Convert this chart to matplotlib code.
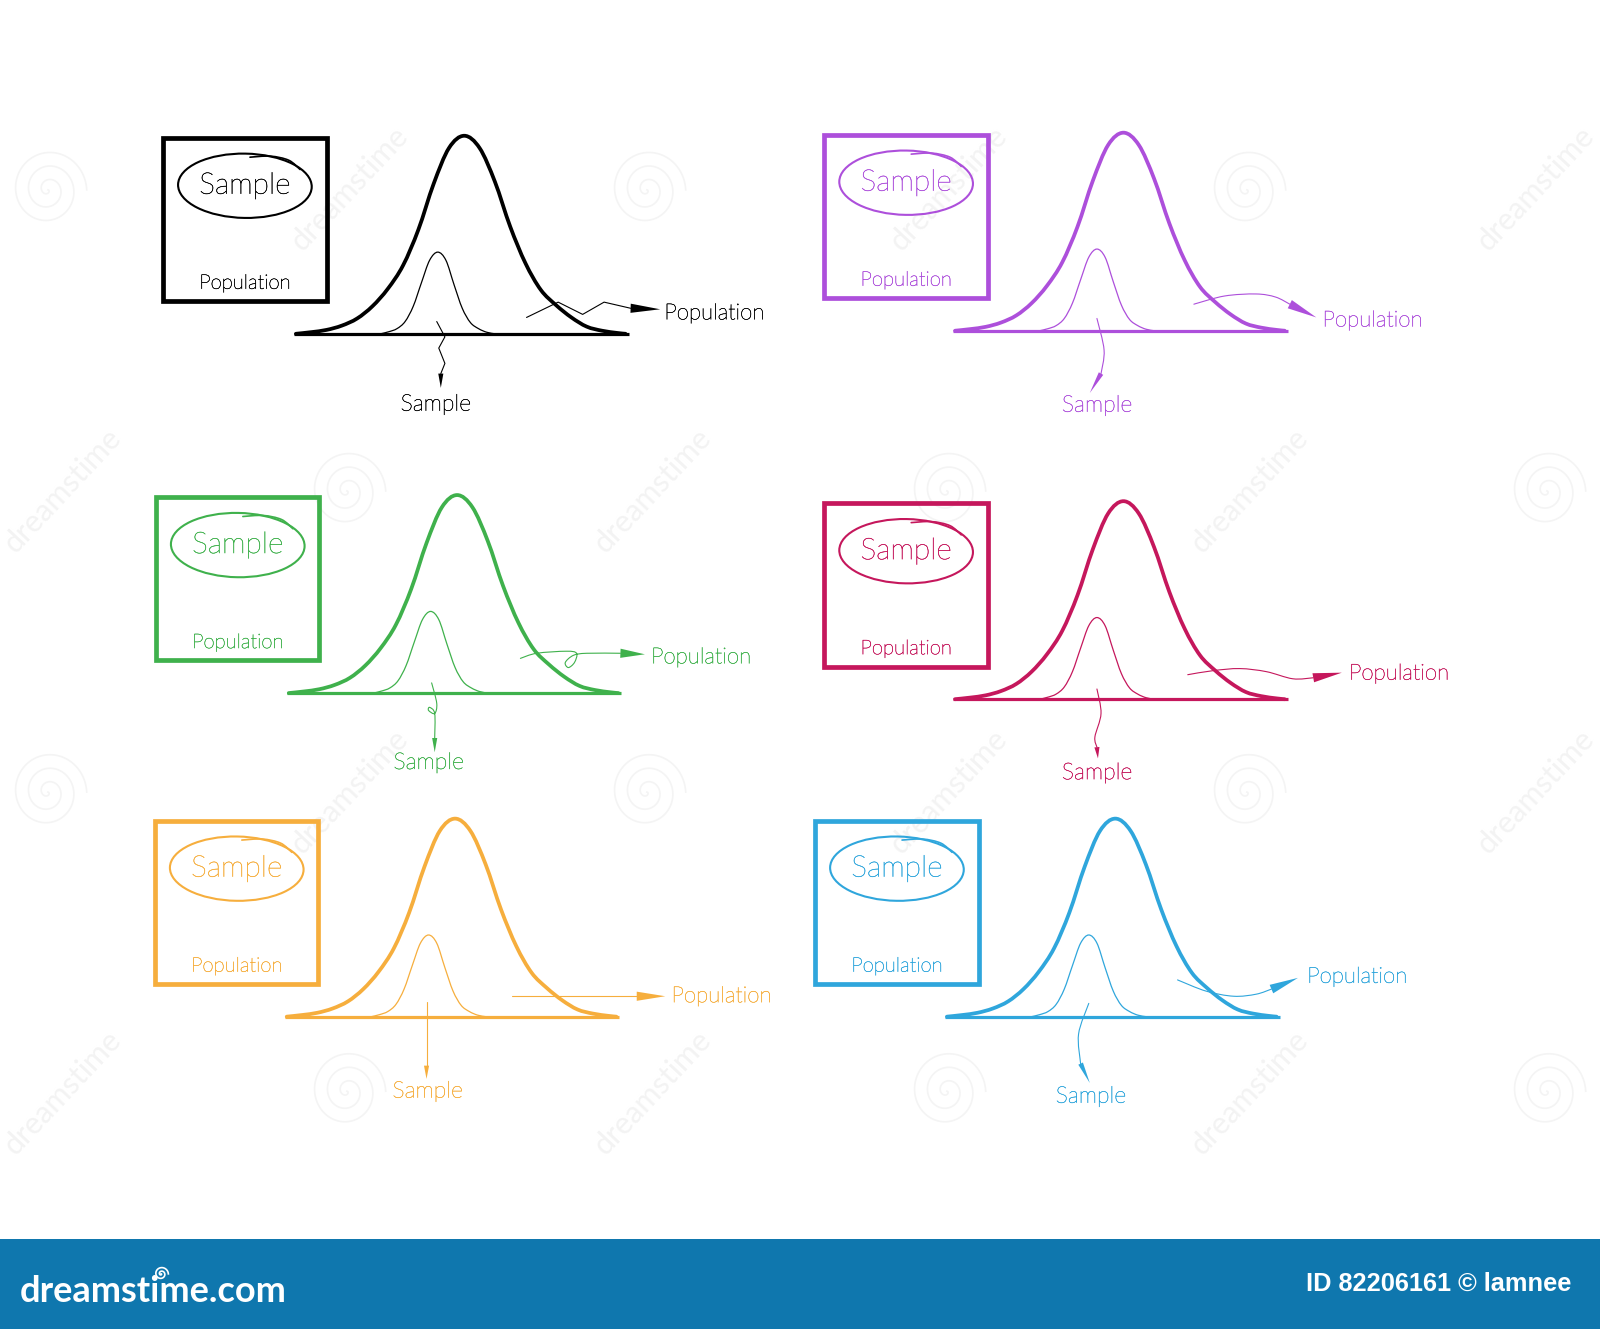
import matplotlib
matplotlib.use('Agg')
import matplotlib.patheffects as pe
import matplotlib.pyplot as plt
import numpy as np
from matplotlib.patches import Ellipse, PathPatch, Polygon, Rectangle
from matplotlib.path import Path

# picture coordinates, y going down
W, H = 1568, 1302

colors = ['#000000', '#ad4fdb', '#3fb14c', '#c5175c', '#f6ae3d', '#2fa6dc']
box_left = [158, 806, 151, 806, 150, 797]
box_top = [133, 130, 485, 491, 802, 802]
peak_x = [455, 1101, 448, 1101, 446, 1093]

# big and small bell, offset from the peak / height above the base line
big_dx = [-165, -150, -135, -120, -105, -90, -75, -60, -45, -30, -15, 0, 15, 30, 45, 60, 75, 90, 105, 120, 135, 150, 158]
big_h = [0, 1.6, 3.8, 8, 15, 27, 44, 67, 102, 147, 182, 194, 182, 149, 105, 69, 43, 28, 16, 7, 3, 0.8, 0]
small_dx = [-56, -48, -40, -32, -24, -16, -8, 0, 8, 16, 24, 32, 40, 48, 56]
small_h = [0, 2, 5, 12, 27, 50, 72, 80, 72, 48, 25, 11, 5, 1.5, 0]

pop_label_x = [700, 1345, 687, 1371, 707, 1330]
pop_label_y = [307, 314, 644, 660, 976, 957]
sample_label_x = [427, 1075, 420, 1075, 419, 1069]
sample_label_y = [396, 397, 747, 757, 1069, 1074]

# arrow shafts: the last point is where the head starts
pop_shaft = [
    [(516, 311), (547, 296), (571, 308), (592, 296), (618, 302)],
    [(1170, 298), (1200, 290), (1231, 288), (1250, 291), (1264, 298)],
    [(510, 645), (526, 640), (555, 638), (565, 640), (563, 649), (557, 654), (554, 649), (562, 642), (575, 640), (608, 640)],
    [(1164, 661), (1189, 657), (1215, 655), (1241, 658), (1267, 665), (1287, 664)],
    [(502, 976), (624, 976)],
    [(1154, 960), (1182, 971), (1209, 976), (1231, 974), (1246, 969)],
]
pop_tip = [(647, 303), (1290, 311), (632, 641), (1315, 659), (652, 976), (1272, 958)]
sample_shaft = [
    [(428, 315), (436, 330), (430, 341), (436, 356), (432, 366)],
    [(1075, 312), (1082, 343), (1079, 366)],
    [(423, 669), (428, 689), (426, 699), (420, 696), (421, 693), (426, 699), (426, 723)],
    [(1075, 675), (1079, 699), (1073, 722), (1075, 732)],
    [(418, 982), (418, 1044)],
    [(1067, 983), (1057, 1013), (1059, 1042)],
]
sample_tip = [(432, 380), (1068, 385), (426, 737), (1076, 743), (418, 1057), (1068, 1061)]
pop_straight = [True, False, False, False, True, False]
sample_straight = [True, False, False, False, True, False]

# the extra pen stroke on the sample ellipse, relative to its centre
stroke_dx = [5, 25, 43, 54]
stroke_dy = [-28, -29, -25, -16]

spiral_x = [47, 634, 1222, 340, 928, 1516, 47, 634, 1222, 340, 928, 1516]
spiral_y = [186, 186, 186, 481, 481, 481, 776, 776, 776, 1069, 1069, 1069]
mark_x = [343, 930, 1505, 62, 640, 1225, 343, 930, 1505, 62, 640, 1225]
mark_y = [185, 185, 185, 480, 480, 480, 775, 775, 775, 1070, 1070, 1070]


def smooth_path(pts):
    # catmull-rom through the points, as bezier segments
    pts = np.array(pts, dtype=float)
    verts = [pts[0]]
    codes = [Path.MOVETO]
    for i in range(len(pts) - 1):
        p0 = pts[max(i - 1, 0)]
        p1 = pts[i]
        p2 = pts[i + 1]
        p3 = pts[min(i + 2, len(pts) - 1)]
        verts += [p1 + (p2 - p0) / 6, p2 - (p3 - p1) / 6, p2]
        codes += [Path.CURVE4] * 3
    return Path(verts, codes)


def draw_line(ax, pts, color, lw, straight=False):
    path = Path(pts) if straight else smooth_path(pts)
    ax.add_patch(PathPatch(path, fill=False, edgecolor=color, linewidth=lw, capstyle='round'))


def draw_arrow(ax, pts, tip, color, half, straight):
    draw_line(ax, pts, color, 0.8, straight)
    base = np.array(pts[-1], dtype=float)
    tip = np.array(tip, dtype=float)
    d = (tip - base) / np.linalg.norm(tip - base)
    n = np.array([-d[1], d[0]])
    ax.add_patch(Polygon([base + n * half, tip, base - n * half], closed=True,
                         facecolor=color, edgecolor='none'))


def draw_spiral(ax, cx, cy, radius, color, lw):
    t = np.linspace(0, 3 * 2 * np.pi, 240)
    r = radius * t / t[-1]
    ax.plot(cx + r * np.cos(t), cy + r * 1.05 * np.sin(t), color=color, lw=lw, zorder=0)


def label(ax, x, y, s, color, size):
    # the light face alone comes out too pale, so thicken it a little
    ax.text(x, y, s, color=color, fontsize=size, fontweight='light', ha='center', va='center',
            path_effects=[pe.withStroke(linewidth=0.3, foreground=color)])


def main():
    plt.rcParams['font.family'] = ['Lato', 'DejaVu Sans']
    fig = plt.figure(figsize=(16, 13.29), dpi=100)
    ax = fig.add_axes([0, 0, 1, 1])
    ax.set_xlim(0, W)
    ax.set_ylim(H, 0)
    ax.axis('off')

    # watermark
    for x, y in zip(spiral_x, spiral_y):
        draw_spiral(ax, x, y, 38, '#f4f4f4', 1.2)
    for x, y in zip(mark_x, mark_y):
        ax.text(x, y, 'dreamstime', color='#f3f3f3', fontsize=22, rotation=47,
                ha='center', va='center', zorder=0)

    for i, c in enumerate(colors):
        left, top, px = box_left[i], box_top[i], peak_x[i]
        base = top + 194

        ax.add_patch(Rectangle((left + 2, top + 2), 160, 160, fill=False, edgecolor=c, linewidth=3.4, joinstyle='miter'))
        ax.add_patch(Ellipse((left + 82, top + 49), 131, 63, angle=1, fill=False, edgecolor=c, linewidth=1.5))
        stroke = [(left + 82 + dx, top + 49 + dy) for dx, dy in zip(stroke_dx, stroke_dy)]
        draw_line(ax, stroke, c, 1.2)
        label(ax, left + 82, top + 49, 'Sample', c, 21.5)
        label(ax, left + 82, top + 145, 'Population', c, 14.6)

        ax.plot([px - 167, px + 161], [base, base], color=c, lw=2.3, solid_capstyle='butt')
        big = [(px + dx, base - h) for dx, h in zip(big_dx, big_h)]
        draw_line(ax, big, c, 2.7)
        small = [(px - 26 + dx, base - h) for dx, h in zip(small_dx, small_h)]
        draw_line(ax, small, c, 0.9)

        draw_arrow(ax, pop_shaft[i], pop_tip[i], c, 4.5, pop_straight[i])
        draw_arrow(ax, sample_shaft[i], sample_tip[i], c, 2.5, sample_straight[i])
        label(ax, pop_label_x[i], pop_label_y[i], 'Population', c, 16)
        label(ax, sample_label_x[i], sample_label_y[i], 'Sample', c, 16.6)

    # footer band
    ax.add_patch(Rectangle((0, 1214), W, H - 1214, facecolor='#0f77ae', edgecolor='none'))
    ax.text(19, 1265, 'dreamstime.com', color='white', fontsize=26, fontweight='bold', ha='left', va='center')
    t = np.linspace(0, 2 * 2 * np.pi, 80)
    ax.plot(158 + 7 * t / t[-1] * np.cos(t), 1248 + 7 * t / t[-1] * np.sin(t), color='white', lw=1.2)
    ax.text(1540, 1258, 'ID 82206161 © lamnee', color='white', fontsize=18.3, fontweight='bold',
            family=['Liberation Sans', 'DejaVu Sans'], ha='right', va='center')

    fig.savefig('out.png', dpi=100)
    plt.close(fig)


if __name__ == '__main__':
    main()
